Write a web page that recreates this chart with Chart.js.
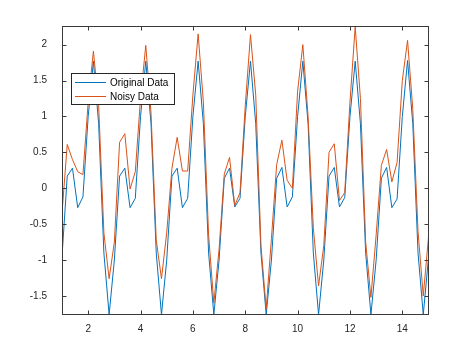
<!DOCTYPE html>
<html>
<head>
<meta charset="utf-8">
<script src="https://cdn.jsdelivr.net/npm/chart.js@4/dist/chart.umd.min.js"></script>
<style>
html,body{margin:0;padding:0;background:#fff;}
#wrap{width:474px;height:355px;position:relative;}
</style>
</head>
<body>
<div id="wrap"><canvas id="c" width="474" height="355"></canvas></div>
<script>
const xs = [1.0,1.2,1.4,1.6,1.8,2.0,2.2,2.4,2.6,2.8,3.0,3.2,3.4,3.6,3.8,4.0,4.2,4.4,4.6,4.8,
  5.0,5.2,5.4,5.6,5.8,6.0,6.2,6.4,6.6,6.8,7.0,7.2,7.4,7.6,7.8,8.0,8.2,8.4,8.6,8.8,
  9.0,9.2,9.4,9.6,9.8,10.0,10.2,10.4,10.6,10.8,11.0,11.2,11.4,11.6,11.8,12.0,12.2,12.4,12.6,12.8,
  13.0,13.2,13.4,13.6,13.8,14.0,14.2,14.4,14.6,14.8,15.0];

const originalData = [-0.95,0.17,0.28,-0.27,-0.12,1.0,1.77,0.9,-0.9,-1.76,
  -1.0,0.17,0.28,-0.27,-0.14,1.0,1.77,0.9,-0.9,-1.76,
  -1.0,0.17,0.28,-0.27,-0.14,1.0,1.77,0.9,-0.9,-1.76,
  -1.0,0.14,0.28,-0.26,-0.14,1.0,1.77,0.9,-0.9,-1.76,
  -1.0,0.14,0.29,-0.26,-0.12,1.0,1.77,0.9,-0.9,-1.76,
  -1.0,0.17,0.29,-0.26,-0.13,1.0,1.77,0.9,-0.9,-1.76,
  -1.0,0.14,0.29,-0.27,-0.15,1.0,1.78,0.9,-0.9,-1.76,
  -0.97];

const noisyData = [-0.35,0.61,0.40,0.23,0.19,1.20,1.91,1.15,-0.62,-1.26,
  -0.75,0.64,0.76,-0.01,0.23,1.25,1.99,1.05,-0.72,-1.26,
  -0.62,0.28,0.71,0.24,0.24,1.30,2.15,1.20,-0.65,-1.60,
  -0.85,0.20,0.43,-0.24,-0.06,1.15,2.14,1.30,-0.80,-1.68,
  -0.70,0.33,0.67,0.11,0.00,1.35,2.00,1.00,-0.55,-1.36,
  -0.80,0.50,0.62,-0.17,-0.06,1.20,2.25,1.25,-0.75,-1.52,
  -0.65,0.32,0.54,0.09,0.36,1.50,2.06,1.10,-0.60,-1.50,
  -0.68];

const seriesNames = ['Original Data', 'Noisy Data'];
const xTicks = [2,4,6,8,10,12,14];
const yTicks = [-1.5,-1,-0.5,0,0.5,1,1.5,2];
const xRange = [1, 15];
const yRange = [-1.765, 2.26];

const FONT = '"Liberation Sans", Arial, Helvetica, sans-serif';
const AXIS_COLOR = '#262626';

const boxPlugin = {
  id: 'matlabBox',
  afterDatasetsDraw(chart) {
    const {ctx, chartArea: {left, right, top, bottom}, scales: {x, y}} = chart;
    ctx.save();
    ctx.strokeStyle = '#3a3a3a';
    ctx.lineWidth = 1;
    const L = Math.round(left) + 0.5, R = Math.round(right) - 0.5;
    const T = Math.round(top) + 0.5, B = Math.round(bottom) - 0.5;
    ctx.beginPath();
    x.ticks.forEach(t => {
      const px = Math.round(x.getPixelForValue(t.value)) + 0.5;
      ctx.moveTo(px, B); ctx.lineTo(px, B - 4);
      ctx.moveTo(px, T); ctx.lineTo(px, T + 4);
    });
    y.ticks.forEach(t => {
      const py = Math.round(y.getPixelForValue(t.value)) + 0.5;
      ctx.moveTo(L, py); ctx.lineTo(L + 4, py);
      ctx.moveTo(R, py); ctx.lineTo(R - 4, py);
    });
    ctx.stroke();
    ctx.strokeRect(L, T, R - L, B - T);

    // legend box
    const lx = 71.5, ly = 73.5, lw = 103, lh = 31;
    ctx.fillStyle = '#ffffff';
    ctx.fillRect(lx, ly, lw, lh);
    ctx.strokeStyle = '#262626';
    ctx.strokeRect(lx, ly, lw, lh);
    const order = [0, 1];
    const rowY = [82.5, 96.5];
    ctx.font = '10px ' + FONT;
    ctx.textBaseline = 'middle';
    ctx.textAlign = 'left';
    order.forEach((di, i) => {
      const ds = chart.data.datasets[di];
      ctx.strokeStyle = ds.borderColor;
      ctx.lineWidth = 1;
      ctx.beginPath();
      ctx.moveTo(75, rowY[i]); ctx.lineTo(106, rowY[i]);
      ctx.stroke();
      ctx.fillStyle = '#000000';
      ctx.fillText(ds.label, 110, rowY[i] + 0.5);
    });
    ctx.restore();
  }
};

new Chart(document.getElementById('c'), {
  type: 'line',
  data: {
    datasets: [
      {
        label: seriesNames[0],
        data: xs.map((v, i) => ({x: v, y: originalData[i]})),
        borderColor: '#0072BD',
        borderWidth: 1,
        pointRadius: 0,
        tension: 0,
        fill: false,
        order: 1
      },
      {
        label: seriesNames[1],
        data: xs.map((v, i) => ({x: v, y: noisyData[i]})),
        borderColor: '#D95319',
        borderWidth: 1,
        pointRadius: 0,
        tension: 0,
        fill: false,
        order: 0
      }
    ]
  },
  options: {
    responsive: false,
    devicePixelRatio: 1,
    animation: false,
    layout: {padding: {left: 0, top: 26, right: 45.5, bottom: 0}},
    plugins: {legend: {display: false}, tooltip: {enabled: false}},
    scales: {
      x: {
        type: 'linear',
        min: xRange[0], max: xRange[1],
        afterBuildTicks: s => { s.ticks = xTicks.map(v => ({value: v})); },
        afterFit: s => { s.height = 40; },
        grid: {display: false},
        border: {display: false},
        ticks: {
          color: AXIS_COLOR, font: {family: FONT, size: 10},
          padding: 0, maxRotation: 0,
          callback: v => String(v)
        }
      },
      y: {
        type: 'linear',
        min: yRange[0], max: yRange[1],
        afterBuildTicks: s => { s.ticks = yTicks.map(v => ({value: v})); },
        afterFit: s => { s.width = 62; },
        grid: {display: false},
        border: {display: false},
        ticks: {
          color: AXIS_COLOR, font: {family: FONT, size: 10},
          padding: 7,
          callback: v => String(v)
        }
      }
    }
  },
  plugins: [boxPlugin]
});
</script>
</body>
</html>
